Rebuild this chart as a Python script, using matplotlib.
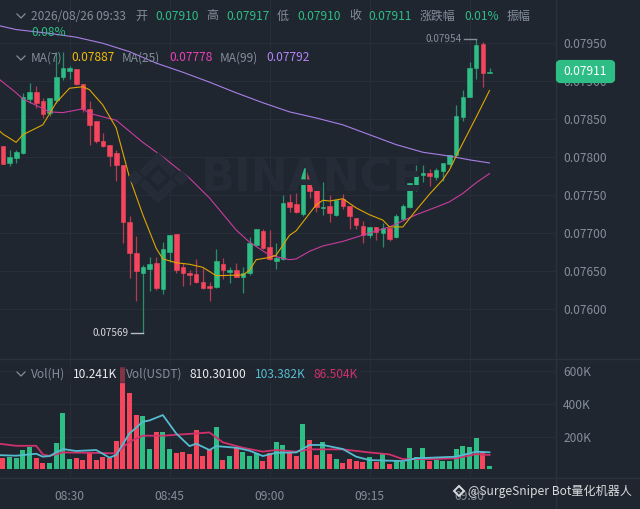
import numpy as np
import matplotlib
matplotlib.use('Agg')
import matplotlib.pyplot as plt
from matplotlib.lines import Line2D
from matplotlib.patches import FancyBboxPatch, Polygon, Rectangle

plt.rcParams['font.family'] = ['Noto Sans CJK SC', 'DejaVu Sans']

# Candles, one per minute, index 0 is 08:30
minutes = np.arange(-10, 64)
opens = [0.07814, 0.07792, 0.07798, 0.07805, 0.07876, 0.07885, 0.07873, 0.07858, 0.07875, 0.07905,
         0.07913, 0.07915, 0.07896, 0.07863, 0.07847, 0.07821, 0.07815, 0.07805, 0.07789, 0.07714,
         0.07674, 0.07648, 0.07653, 0.07661, 0.07627, 0.07675, 0.07699, 0.07655, 0.07648, 0.07646,
         0.07636, 0.07630, 0.07629, 0.07659, 0.07649, 0.07651, 0.07642, 0.07648, 0.07684, 0.07703,
         0.07682, 0.07663, 0.07666, 0.07741, 0.07738, 0.07725, 0.07781, 0.07756, 0.07733, 0.07735,
         0.07724, 0.07745, 0.07735, 0.07720, 0.07709, 0.07697, 0.07708, 0.07700, 0.07707, 0.07695,
         0.07718, 0.07734, 0.07758, 0.07776, 0.07779, 0.07773, 0.07781, 0.07791, 0.07803, 0.07852,
         0.07879, 0.07917, 0.07948, 0.07910]
closes = [0.07791, 0.07800, 0.07806, 0.07879, 0.07885, 0.07871, 0.07856, 0.07877, 0.07905, 0.07917,
          0.07917, 0.07896, 0.07863, 0.07842, 0.07821, 0.07814, 0.07801, 0.07789, 0.07714, 0.07674,
          0.07650, 0.07655, 0.07659, 0.07628, 0.07679, 0.07697, 0.07651, 0.07648, 0.07645, 0.07636,
          0.07628, 0.07628, 0.07663, 0.07651, 0.07651, 0.07642, 0.07648, 0.07687, 0.07705, 0.07680,
          0.07666, 0.07667, 0.07739, 0.07734, 0.07728, 0.07785, 0.07755, 0.07734, 0.07734, 0.07726,
          0.07743, 0.07735, 0.07722, 0.07711, 0.07697, 0.07708, 0.07701, 0.07707, 0.07692, 0.07722,
          0.07735, 0.07766, 0.07775, 0.07779, 0.07775, 0.07783, 0.07792, 0.07803, 0.07854, 0.07879,
          0.07917, 0.07947, 0.07910, 0.07911]
highs = [0.07814, 0.07809, 0.07809, 0.07884, 0.07897, 0.07893, 0.07877, 0.07877, 0.07938, 0.07938,
         0.07919, 0.07915, 0.07896, 0.07873, 0.07847, 0.07831, 0.07815, 0.07809, 0.07789, 0.07722,
         0.07696, 0.07658, 0.07669, 0.07669, 0.07688, 0.07697, 0.07699, 0.07661, 0.07652, 0.07666,
         0.07654, 0.07636, 0.07679, 0.07667, 0.07655, 0.07661, 0.07655, 0.07695, 0.07705, 0.07705,
         0.07704, 0.07687, 0.07750, 0.07751, 0.07753, 0.07793, 0.07781, 0.07767, 0.07767, 0.07750,
         0.07743, 0.07751, 0.07735, 0.07720, 0.07716, 0.07708, 0.07708, 0.07713, 0.07707, 0.07725,
         0.07738, 0.07766, 0.07789, 0.07789, 0.07784, 0.07785, 0.07792, 0.07803, 0.07868, 0.07888,
         0.07924, 0.07954, 0.07951, 0.07917]
lows = [0.07790, 0.07788, 0.07792, 0.07804, 0.07871, 0.07864, 0.07851, 0.07854, 0.07871, 0.07901,
        0.07902, 0.07894, 0.07859, 0.07815, 0.07818, 0.07813, 0.07788, 0.07768, 0.07687, 0.07641,
        0.07611, 0.07569, 0.07624, 0.07625, 0.07620, 0.07662, 0.07648, 0.07630, 0.07632, 0.07634,
        0.07627, 0.07611, 0.07628, 0.07640, 0.07634, 0.07642, 0.07621, 0.07645, 0.07683, 0.07679,
        0.07665, 0.07653, 0.07665, 0.07728, 0.07726, 0.07722, 0.07746, 0.07728, 0.07724, 0.07714,
        0.07723, 0.07732, 0.07705, 0.07705, 0.07687, 0.07693, 0.07691, 0.07682, 0.07690, 0.07693,
        0.07718, 0.07733, 0.07755, 0.07767, 0.07762, 0.07770, 0.07768, 0.07787, 0.07801, 0.07847,
        0.07879, 0.07902, 0.07892, 0.07910]
volumes = [66, 76, 66, 117, 137, 70, 39, 39, 160, 342,
           62, 70, 55, 96, 55, 76, 66, 172, 629, 465,
           332, 326, 125, 228, 225, 125, 96, 107, 92, 240,
           80, 121, 258, 55, 80, 127, 102, 82, 96, 51,
           100, 164, 146, 102, 80, 277, 176, 86, 164, 92,
           62, 39, 62, 51, 45, 72, 45, 90, 33, 53,
           41, 127, 76, 127, 51, 55, 51, 51, 123, 141,
           133, 189, 102, 16]

# Moving average lines, read at their bends
ma7_x = [-11, -10, -8, -7, -4, -2, 0, 2, 3, 5, 7, 9, 11, 13, 14, 16, 18, 20, 22, 26, 27, 28, 30, 31,
         33, 34, 37, 38, 39, 41, 43, 45, 47, 48, 50, 52, 54, 56, 57, 58, 59, 60, 61, 63]
ma7_y = [0.07838, 0.07830, 0.07819, 0.07829, 0.07842, 0.07871, 0.07890, 0.07892, 0.07888, 0.07868,
         0.07838, 0.07773, 0.07724, 0.07680, 0.07666, 0.07661, 0.07659, 0.07655, 0.07644, 0.07645,
         0.07651, 0.07665, 0.07668, 0.07671, 0.07697, 0.07703, 0.07737, 0.07743, 0.07742, 0.07745,
         0.07733, 0.07724, 0.07717, 0.07708, 0.07708, 0.07730, 0.07751, 0.07770, 0.07783, 0.07801,
         0.07818, 0.07835, 0.07852, 0.07887]
ma25_x = [-11, -8, -7, -3, -1, 2, 3, 7, 11, 14, 18, 21, 25, 27, 30, 33, 34, 36, 38, 41, 45, 48, 52,
          55, 57, 59, 61, 63]
ma25_y = [0.07905, 0.07884, 0.07876, 0.07859, 0.07858, 0.07863, 0.07857, 0.07848, 0.07819, 0.07800,
          0.07772, 0.07746, 0.07704, 0.07688, 0.07671, 0.07665, 0.07666, 0.07676, 0.07683, 0.07689,
          0.07700, 0.07708, 0.07724, 0.07734, 0.07741, 0.07752, 0.07766, 0.07778]
ma99_x = [-11, -8, -3, 1, 5, 9, 13, 17, 21, 25, 29, 33, 37, 41, 45, 49, 53, 57, 60, 63]
ma99_y = [0.07973, 0.07967, 0.07962, 0.07957, 0.07949, 0.07938, 0.07923, 0.07911, 0.07898, 0.07884,
          0.07871, 0.07859, 0.07851, 0.07842, 0.07829, 0.07816, 0.07806, 0.07801, 0.07796, 0.07792]

vol_blue_x = [-11, -8, -5, -4, -3, -1, 1, 4, 6, 7, 9, 11, 12, 14, 16, 18, 19, 21, 22, 25, 27, 29, 31,
              34, 36, 38, 41, 43, 45, 50, 52, 58, 61, 63]
vol_blue_y = [86, 82, 94, 76, 80, 123, 111, 117, 70, 86, 219, 291, 299, 332, 219, 141, 156, 117, 141,
              131, 113, 80, 100, 102, 148, 148, 123, 76, 55, 49, 66, 76, 107, 103]
vol_red_x = [-11, -8, -5, -4, -3, -1, 3, 7, 9, 11, 14, 19, 21, 23, 26, 29, 31, 34, 36, 41, 45, 48, 50,
             54, 58, 61, 63]
vol_red_y = [158, 143, 143, 90, 80, 102, 100, 96, 168, 205, 205, 219, 225, 164, 131, 107, 117, 107,
             121, 121, 102, 90, 61, 61, 66, 92, 86.5]

price_ticks = [0.07600, 0.07650, 0.07700, 0.07750, 0.07800, 0.07850, 0.07900, 0.07950]
vol_ticks = [200, 400, 600]
vol_tick_labels = ['200K', '400K', '600K']
time_ticks = [0, 15, 30, 45, 60]
time_labels = ['08:30', '08:45', '09:00', '09:15', '09:30']

BG = '#1f2630'
GRID = '#282e39'
SEP = '#2c323d'
MARK = '#262c37'
UP = '#2ebd85'
DOWN = '#f6465d'
GREY = '#848e9c'
W, H = 640, 509

fig = plt.figure(figsize=(W / 100, H / 100), dpi=100, facecolor=BG)
ax = fig.add_axes([0, (H - 358) / H, 555 / W, 358 / H], facecolor='none')
ax_vol = fig.add_axes([0, (H - 477) / H, 555 / W, 119 / H], facecolor='none')

xlim = (-10.425, 72.825)
for a in (ax, ax_vol):
    a.set_xlim(xlim)
    a.yaxis.tick_right()
    a.tick_params(length=0, labelcolor=GREY, labelsize=8.6, pad=5.8)
    a.grid(True, color=GRID, linewidth=0.8)
    a.set_axisbelow(True)
    a.set_xticks(time_ticks)
    for s in a.spines.values():
        s.set_visible(False)

ax.set_ylim(0.07536, 0.080058)
ax.set_yticks(price_ticks)
ax.set_yticklabels(['%.5f' % p for p in price_ticks])
ax.tick_params(labelbottom=False)

ax_vol.set_ylim(-49, 683)
ax_vol.set_yticks(vol_ticks)
ax_vol.set_yticklabels(vol_tick_labels)
ax_vol.set_xticklabels(time_labels)
ax_vol.tick_params(axis='x', pad=9)


def px_poly(points, **kw):
    pts = [(x / W, 1 - y / H) for x, y in points]
    fig.add_artist(Polygon(pts, closed=True, transform=fig.transFigure, **kw))


# Watermark behind the candles
fig.text(201 / W, 1 - 179 / H, 'BINANCE', color=MARK, fontsize=32, fontweight='bold',
         family='DejaVu Sans', va='center', ha='left', zorder=0.5)
for cx, r in [(135, 7), (158, 7), (181, 7)]:
    px_poly([(cx - r, 178), (cx, 178 - r), (cx + r, 178), (cx, 178 + r)], color=MARK, zorder=0.5)
top_arm = [(140, 171), (158, 153), (176, 171), (171, 176), (158, 163), (145, 176)]
px_poly(top_arm, color=MARK, zorder=0.5)
px_poly([(x, 356 - y) for x, y in top_arm], color=MARK, zorder=0.5)

# Candles
colors = [UP if c >= o else DOWN for o, c in zip(opens, closes)]
ax.vlines(minutes, lows, highs, colors=colors, linewidth=0.9, alpha=0.7, zorder=2)
ax.bar(minutes, np.array(closes) - np.array(opens), bottom=opens, width=0.7, color=colors,
       edgecolor=colors, linewidth=0.4, zorder=3)

ax.plot(ma99_x, ma99_y, color='#a97fe8', linewidth=0.8, zorder=4)
ax.plot(ma25_x, ma25_y, color='#c93c9e', linewidth=0.8, zorder=4)
ax.plot(ma7_x, ma7_y, color='#e0a500', linewidth=0.8, zorder=4)

# High and low markers
ax.plot([59.2, 61], [0.07954, 0.07954], color=GREY, linewidth=1, zorder=5)
ax.text(58.8, 0.07954, '0.07954', color=GREY, fontsize=7.2, ha='right', va='center', zorder=5)
ax.plot([9.2, 11], [0.07569, 0.07569], color='#b7bdc6', linewidth=1, zorder=5)
ax.text(8.8, 0.07569, '0.07569', color='#d5d8dc', fontsize=7.2, ha='right', va='center', zorder=5)

# Volume
ax_vol.bar(minutes, volumes, width=0.75, color=colors, zorder=2)
ax_vol.plot(vol_red_x, vol_red_y, color='#d1316b', linewidth=1.3, zorder=3)
ax_vol.plot(vol_blue_x, vol_blue_y, color='#55bcd0', linewidth=1.3, zorder=4)

# Pane separators
fig.add_artist(Line2D([0, 1], [1 - 358.5 / H] * 2, color=SEP, linewidth=1, zorder=1))
fig.add_artist(Line2D([0, 1], [1 - 477.5 / H] * 2, color=SEP, linewidth=1, zorder=1))
fig.add_artist(Line2D([555.5 / W] * 2, [0, 1], color=SEP, linewidth=1, zorder=1))


def label(x, y, s, color=GREY, size=8.6, **kw):
    fig.text(x / W, 1 - y / H, s, color=color, fontsize=size, va='center', ha='left', zorder=6, **kw)


def chevron(x, y):
    fig.add_artist(Line2D([x / W, (x + 4) / W, (x + 8) / W],
                          [1 - (y - 2) / H, 1 - (y + 2) / H, 1 - (y - 2) / H],
                          color=GREY, linewidth=0.9, zorder=6))


# Backing behind the volume legend row dims the tall bar
fig.add_artist(Rectangle((15 / W, 1 - 382 / H), 345 / W, 15 / H, color=BG, alpha=0.55,
                         transform=fig.transFigure, zorder=5))

chevron(17, 16)
label(31, 16, '2026/08/26 09:33')
label(135, 16, '开')
label(155, 16, '0.07910', UP)
label(206, 16, '高')
label(226, 16, '0.07917', UP)
label(277, 16, '低')
label(297, 16, '0.07910', UP)
label(349, 16, '收')
label(368, 16, '0.07911', UP)
label(420, 16, '涨跌幅')
label(464, 16, '0.01%', UP)
label(507, 16, '振幅')
label(31, 32, '0.08%', UP)

chevron(17, 58)
label(31, 58, 'MA(7)')
label(71, 58, '0.07887', '#f0b90b')
label(122, 58, 'MA(25)')
label(169, 58, '0.07778', '#eb40b5')
label(220, 58, 'MA(99)')
label(266, 58, '0.07792', '#b385f8')

chevron(17, 374)
label(31, 374, 'Vol(H)')
label(73, 374, '10.241K', '#eaecef')
label(126, 374, 'Vol(USDT)')
label(190, 374, '810.30100', '#eaecef')
label(255, 374, '103.382K', '#55bcd0')
label(314, 374, '86.504K', '#d1316b')

# Last price tag
fig.add_artist(FancyBboxPatch((558 / W, 1 - 81 / H), 55 / W, 19 / H,
                              boxstyle='round,pad=0,rounding_size=0.004', mutation_aspect=1,
                              facecolor=UP, edgecolor=UP, linewidth=3,
                              transform=fig.transFigure, zorder=7))
fig.text(585.5 / W, 1 - 71.5 / H, '0.07911', color='white', fontsize=8.6, ha='center', va='center', zorder=8)

# Site mark over the time axis
fig.text(468 / W, 1 - 491 / H, '@SurgeSniper Bot量化机器人', color='#d8dadd', fontsize=8.7,
         va='center', ha='left', zorder=9)
px_poly([(454, 491), (459, 486), (464, 491), (459, 496)], facecolor='none', edgecolor='#d8dadd',
        linewidth=1.4, zorder=9)

fig.savefig('out.png', dpi=100, facecolor=BG)
